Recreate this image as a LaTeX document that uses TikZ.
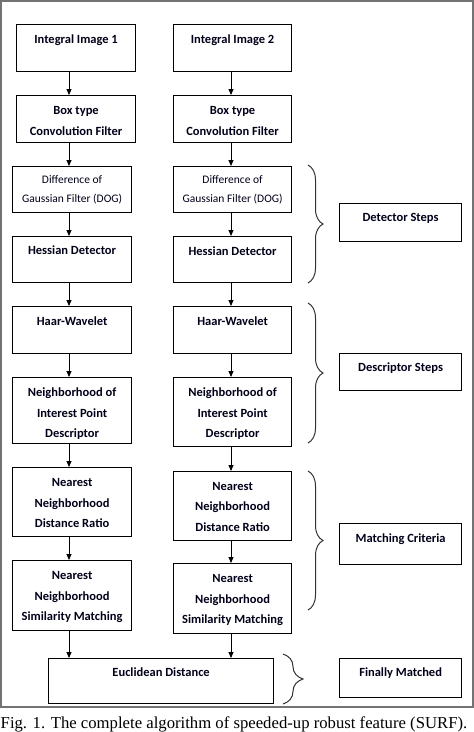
\documentclass[tikz,border=0pt]{standalone}
\usepackage{fontspec}
\setmainfont{Carlito}
\newfontfamily\capfont{Liberation Serif}
\usetikzlibrary{arrows.meta,decorations.pathreplacing}
\tikzset{
  box/.style={draw=black, line width=1.2pt, inner sep=0pt, text=black!90!blue},
  arr/.style={-{Triangle[length=6pt,width=5pt]}, line width=0.8pt, black},
  brc/.style={decorate, decoration={brace, amplitude=#1}, line width=1pt, black!80},
  frame/.style={draw=black!55, line width=2.2pt}
}
\newcommand\bx[8]{%
  \node[box, anchor=north west] (#1) at (#2,#3)
   {\parbox[c][#5pt][t]{#4pt}{\centering#7\rule{0pt}{#6pt}#8}};}
\newcommand\bfn{\fontsize{12.5}{20.5}\selectfont\bfseries}
\newcommand\rgn{\fontsize{11.5}{19}\selectfont}
\begin{document}
\begin{tikzpicture}[x=1pt,y=-1pt]
\useasboundingbox (0,0) rectangle (474,732);
\draw[frame] (1.1,1.1) rectangle (472.9,707);
% left column
\bx{ii1}{16}{24}{119}{47}{19}{\bfn}{Integral Image 1}
\bx{bt1}{16}{95}{119}{47}{19}{\bfn}{Box type\\Convolution Filter}
\bx{dog1}{12}{166}{119}{46}{16.5}{\rgn}{Difference of\\Gaussian Filter (DOG)}
\bx{hes1}{12}{236}{119}{46}{18}{\bfn}{Hessian Detector}
\bx{haar1}{12}{306}{119}{47}{19}{\bfn}{Haar-Wavelet}
\bx{nip1}{12}{377}{119}{66}{19}{\bfn}{Neighborhood of\\Interest Point\\Descriptor}
\bx{nnd1}{12}{467}{119}{69}{19}{\bfn}{Nearest\\Neighborhood\\Distance Ratio}
\bx{nns1}{12}{560}{119}{70}{19}{\bfn}{Nearest\\Neighborhood\\Similarity Matching}
% right column
\bx{ii2}{173}{24}{118}{47}{19}{\bfn}{Integral Image 2}
\bx{bt2}{173}{95}{118}{47}{19}{\bfn}{Box type\\Convolution Filter}
\bx{dog2}{173}{166}{118}{46}{16.5}{\rgn}{Difference of\\Gaussian Filter (DOG)}
\bx{hes2}{173}{236}{118}{46}{18.5}{\bfn}{Hessian Detector}
\bx{haar2}{173}{306}{118}{47}{19}{\bfn}{Haar-Wavelet}
\bx{nip2}{173}{377}{118}{69}{19}{\bfn}{Neighborhood of\\Interest Point\\Descriptor}
\bx{nnd2}{173}{471}{118}{69}{18.7}{\bfn}{Nearest\\Neighborhood\\Distance Ratio}
\bx{nns2}{173}{563}{118}{70}{19}{\bfn}{Nearest\\Neighborhood\\Similarity Matching}
% bottom
\bx{euc}{48}{658}{225}{45}{17.7}{\bfn}{Euclidean Distance}
% right labels
\bx{det}{339}{203}{122}{38}{17.7}{\bfn}{Detector Steps}
\bx{des}{339}{353}{122}{37}{17.7}{\bfn}{Descriptor Steps}
\bx{mat}{339}{523}{122}{41}{18.7}{\bfn}{Matching Criteria}
\bx{fin}{339}{658}{122}{39}{17.7}{\bfn}{Finally Matched}
% arrows
\coordinate (lx) at (69,0);
\coordinate (rx) at (231,0);
\foreach \a/\b in {ii1/bt1,bt1/dog1,dog1/hes1,hes1/haar1,haar1/nip1,nip1/nnd1,nnd1/nns1,nns1/euc}
  \draw[arr] (\a.south -| lx) -- (\b.north -| lx);
\foreach \a/\b in {ii2/bt2,bt2/dog2,dog2/hes2,hes2/haar2,haar2/nip2,nip2/nnd2,nnd2/nns2,nns2/euc}
  \draw[arr] (\a.south -| rx) -- (\b.north -| rx);
% braces
\coordinate (b1t) at (308,165); \coordinate (b1b) at (308,283);
\coordinate (b2t) at (308,303); \coordinate (b2b) at (308,443);
\coordinate (b3t) at (308,471); \coordinate (b3b) at (308,610);
\coordinate (b4t) at (283,654); \coordinate (b4b) at (283,704);
\draw[brc=15pt] (b1t) -- (b1b);
\draw[brc=15pt] (b2t) -- (b2b);
\draw[brc=15pt] (b3t) -- (b3b);
\draw[brc=20pt] (b4t) -- (b4b);
% caption
\node[inner sep=0pt, anchor=base, font=\capfont\fontsize{16.7}{19}\selectfont] (cap) at (234,728)
  {Fig. 1. The complete algorithm of speeded-up robust feature (SURF).};
\end{tikzpicture}
\end{document}
